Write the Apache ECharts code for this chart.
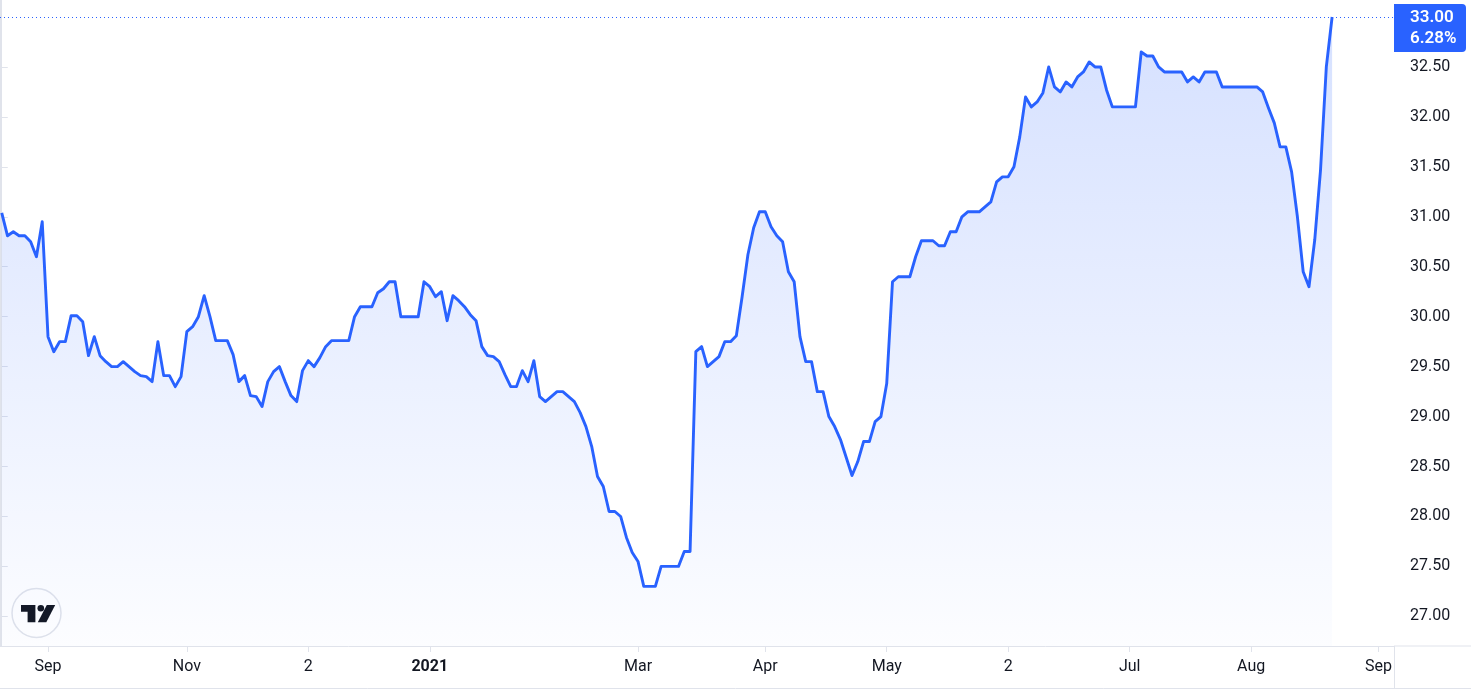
<!DOCTYPE html>
<html>
<head>
<meta charset="utf-8">
<script src="https://cdn.jsdelivr.net/npm/echarts@6.0.0/dist/echarts.min.js"></script>
<style>
html,body{margin:0;padding:0;background:#fff;}
#chart{width:1471px;height:691px;}
</style>
</head>
<body>
<div id="chart"></div>
<script>
// Closing prices, one per trading bar (index 0 = first visible bar)
const prices = [
31.04,30.81,30.85,30.81,30.81,30.75,30.60,30.95,29.80,29.65,
29.75,29.75,30.01,30.01,29.95,29.61,29.80,29.61,29.55,29.50,
29.50,29.55,29.50,29.45,29.41,29.40,29.35,29.75,29.41,29.41,
29.30,29.40,29.85,29.90,30.00,30.21,30.00,29.76,29.76,29.76,
29.62,29.35,29.41,29.21,29.20,29.10,29.35,29.45,29.50,29.35,
29.21,29.15,29.46,29.56,29.50,29.59,29.70,29.76,29.76,29.76,
29.76,30.00,30.10,30.10,30.10,30.24,30.28,30.35,30.35,30.00,
30.00,30.00,30.00,30.35,30.30,30.20,30.25,29.96,30.21,30.16,
30.10,30.02,29.96,29.70,29.61,29.60,29.55,29.42,29.30,29.30,
29.46,29.35,29.56,29.20,29.15,29.20,29.25,29.25,29.20,29.15,
29.04,28.90,28.70,28.40,28.30,28.05,28.05,28.00,27.79,27.64,
27.55,27.30,27.30,27.30,27.50,27.50,27.50,27.50,27.65,27.65,
29.65,29.70,29.50,29.55,29.60,29.75,29.75,29.81,30.20,30.62,
30.89,31.05,31.05,30.90,30.81,30.75,30.45,30.35,29.80,29.55,
29.55,29.25,29.25,29.00,28.90,28.77,28.59,28.41,28.55,28.75,
28.75,28.95,29.00,29.33,30.35,30.40,30.40,30.40,30.60,30.76,
30.76,30.76,30.71,30.71,30.85,30.85,31.00,31.05,31.05,31.05,
31.10,31.15,31.35,31.40,31.40,31.50,31.80,32.20,32.10,32.15,
32.24,32.50,32.30,32.25,32.35,32.30,32.40,32.45,32.55,32.50,
32.50,32.27,32.10,32.10,32.10,32.10,32.10,32.65,32.61,32.61,
32.50,32.45,32.45,32.45,32.45,32.35,32.40,32.35,32.45,32.45,
32.45,32.30,32.30,32.30,32.30,32.30,32.30,32.30,32.25,32.09,
31.94,31.70,31.70,31.45,31.00,30.45,30.30,30.77,31.47,32.50,
33.00
];
// X-axis tick labels and the bar index where each sits
const tickLabels = ['Sep','Nov','2','2021','Mar','Apr','May','2','Jul','Aug','Sep'];
const tickIndex  = [8, 32, 53, 74, 110, 132, 153, 174, 195, 216, 238];
// Y-axis tick values
const yTicks = [27.00,27.50,28.00,28.50,29.00,29.50,30.00,30.50,31.00,31.50,32.00,32.50];
const lastChangePct = '6.28%';

const FONT = 'Roboto, "Noto Sans", sans-serif';
const TEXT = '#131722';
const BORDER = '#e0e3eb';
const BLUE = '#2962FF';

const xMin = -0.3, xMax = 240.7;
const yMin = 26.7034, yMax = 33.1702;

const chart = echarts.init(document.getElementById('chart'), null, {renderer:'canvas'});
const seriesData = prices.map((v, i) => [i, v]);

chart.setOption({
  animation: false,
  backgroundColor: '#ffffff',
  grid: {left: 0, right: 77, top: 0, bottom: 45},
  xAxis: {
    type: 'value',
    min: xMin, max: xMax,
    splitLine: {show: false},
    axisLine: {show: true, onZero: false, lineStyle: {color: BORDER, width: 1}},
    axisTick: {show: true, length: 6, lineStyle: {color: BORDER}, customValues: tickIndex},
    axisLabel: {
      customValues: tickIndex,
      margin: 13,
      fontFamily: FONT, fontSize: 16, color: TEXT,
      formatter: function (v) {
        const k = tickIndex.indexOf(Math.round(v));
        if (k < 0) return '';
        const t = tickLabels[k];
        return /^\d{4}$/.test(t) ? '{b|' + t + '}' : t;
      },
      rich: {b: {fontWeight: 'bold', fontFamily: FONT, fontSize: 16, color: TEXT}}
    }
  },
  yAxis: {
    type: 'value',
    position: 'right',
    min: yMin, max: yMax,
    splitLine: {show: false},
    axisLine: {show: true, lineStyle: {color: BORDER, width: 1}},
    axisTick: {show: true, length: 6, lineStyle: {color: BORDER}, customValues: yTicks},
    axisLabel: {
      customValues: yTicks,
      margin: 16,
      fontFamily: FONT, fontSize: 16, color: TEXT,
      formatter: v => Number(v).toFixed(2)
    }
  },
  series: [{
    type: 'line',
    data: seriesData,
    showSymbol: false,
    symbol: 'none',
    lineStyle: {color: BLUE, width: 2.9, join: 'round'},
    areaStyle: {
      color: new echarts.graphic.LinearGradient(0, 0, 0, 1, [
        {offset: 0, color: 'rgba(41,98,255,0.28)'},
        {offset: 1, color: 'rgba(41,98,255,0.02)'}
      ])
    },
    markLine: {
      silent: true,
      symbol: 'none',
      label: {show: false},
      lineStyle: {color: BLUE, type: [1, 3], width: 1},
      data: [{yAxis: prices[prices.length - 1]}]
    }
  }]
});

// Price badge on the y axis and frame/logo decorations
const last = prices[prices.length - 1];
const pLast = chart.convertToPixel({xAxisIndex: 0, yAxisIndex: 0}, [prices.length - 1, last]);
const axisX = chart.convertToPixel({xAxisIndex: 0}, xMax);
const axisY = chart.convertToPixel({yAxisIndex: 0}, yMin);
const W = 1471, H = 691;

chart.setOption({
  graphic: [
    {type: 'line', shape: {x1: 0.5, y1: 0, x2: 0.5, y2: axisY}, style: {stroke: BORDER, lineWidth: 1}, silent: true},
    {type: 'line', shape: {x1: axisX, y1: axisY, x2: W, y2: axisY}, style: {stroke: BORDER, lineWidth: 1}, silent: true},
    {type: 'line', shape: {x1: axisX + 0.5, y1: axisY, x2: axisX + 0.5, y2: H - 2.5}, style: {stroke: BORDER, lineWidth: 1}, silent: true},
    {type: 'line', shape: {x1: 0, y1: H - 2.5, x2: W, y2: H - 2.5}, style: {stroke: BORDER, lineWidth: 1}, silent: true},
    {
      type: 'group', x: axisX, y: pLast[1] - 13, z: 100,
      children: [
        {type: 'rect', shape: {x: 0, y: 0, width: 72, height: 48, r: [0, 4, 4, 0]}, style: {fill: BLUE}},
        {type: 'text', x: 16, y: 13.5, style: {text: last.toFixed(2), fill: '#fff', font: '600 17px ' + FONT, verticalAlign: 'middle', align: 'left'}},
        {type: 'text', x: 16, y: 35, style: {text: lastChangePct, fill: '#fff', font: '600 17px ' + FONT, verticalAlign: 'middle', align: 'left'}}
      ]
    },
    {
      type: 'group', x: 0, y: 0, z: 100,
      children: [
        {type: 'circle', shape: {cx: 36.5, cy: 613, r: 24.5}, style: {fill: '#fff', stroke: BORDER, lineWidth: 1.5}},
        {type: 'polygon', shape: {points: [[21,605],[35.4,605],[35.4,622.3],[27.6,622.3],[27.6,611.8],[21,611.8]]}, style: {fill: TEXT}},
        {type: 'circle', shape: {cx: 40.8, cy: 608.3, r: 3.3}, style: {fill: TEXT}},
        {type: 'polygon', shape: {points: [[37.8,622.3],[46.3,622.3],[55.2,605],[46.8,605]]}, style: {fill: TEXT}}
      ]
    }
  ]
});
</script>
</body>
</html>
